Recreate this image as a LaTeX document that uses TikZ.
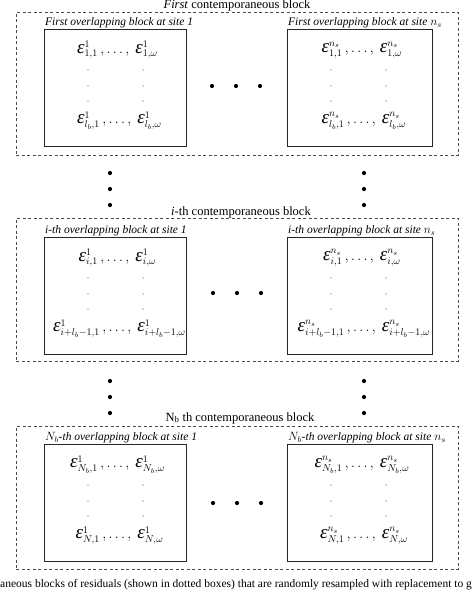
\documentclass[tikz,border=0pt]{standalone}
\usepackage{fontspec}
\setmainfont{Liberation Serif}
\usepackage{amsmath, amssymb}
\usetikzlibrary{calc, positioning}

\tikzset{
  outerbox/.style={draw=black!70, dash pattern=on 3pt off 2.5pt, line width=0.6pt,
    minimum width=442, minimum height=143, anchor=north west, inner sep=0},
  innerbox/.style={draw=black!85, line width=0.9pt, anchor=north west, inner sep=0, minimum height=117},
  sitetitle/.style={font=\fontsize{11.5}{14}\selectfont\itshape, anchor=south west, inner sep=1pt},
  blocktitle/.style={font=\fontsize{12.5}{14}\selectfont, inner sep=0},
  resid/.style={font=\Large, inner sep=0},
  bigdot/.style={circle, fill, inner sep=0, minimum size=4.2},
  smalldot/.style={circle, fill=black!70, inner sep=0, minimum size=1.3}
}

\newcommand{\epsmark}{\text{\fontsize{19}{19}\selectfont\itshape ε}}

% one overlapping block: name, corner, width, top left, top right, bottom left, bottom right
\newcommand{\siteblock}[7]{%
  \node[innerbox, minimum width=#3] (#1) at (#2) {};
  \node[resid] (#1-top) at ($(#1.north)+(2,21)$) {$#4\,,\ldots,\ #5$};
  \node[resid] (#1-bot) at ($(#1.north)+(4,92)$) {$#6\,,\ldots,\ #7$};
  \foreach \r in {41,57,72} {
    \node[smalldot] (#1-a\r) at ($(#1.north west)+(44,\r)$) {};
    \node[smalldot] (#1-b\r) at ($(#1.north west)+(99,\r)$) {};
  }
}

\begin{document}
\begin{tikzpicture}[x=1pt, y=-1pt]
  \useasboundingbox (0,0) rectangle (474,598);

  % contemporaneous blocks
  \node[outerbox] (O1) at (16,12) {};
  \node[outerbox] (O2) at (16,218) {};
  \node[outerbox] (O3) at (16,426) {};
  \node[blocktitle] (T1) at (237,5) {\textit{First} contemporaneous block};
  \node[blocktitle] (T2) at (241,212) {\textit{i}-th contemporaneous block};
  \node[blocktitle] (T3) at (240,418) {N\textsubscript{b} th contemporaneous block};

  % first
  \siteblock{L1}{44,29}{142}{\epsmark^{1}_{1,1}}{\epsmark^{1}_{1,\omega}}
    {\epsmark^{1}_{l_b,1}}{\epsmark^{1}_{l_b,\omega}}
  \siteblock{R1}{287,29}{145}{\epsmark^{n_s}_{1,1}}{\epsmark^{n_s}_{1,\omega}}
    {\epsmark^{n_s}_{l_b,1}}{\epsmark^{n_s}_{l_b,\omega}}
  \node[sitetitle] (S1) at (L1.north west) {First overlapping block at site 1};
  \node[sitetitle] (S2) at (R1.north west) {First overlapping block at site $n_s$};

  % i-th
  \siteblock{L2}{44,237}{142}{\epsmark^{1}_{i,1}}{\epsmark^{1}_{i,\omega}}
    {\epsmark^{1}_{i+l_b-1,1}}{\epsmark^{1}_{i+l_b-1,\omega}}
  \siteblock{R2}{287,237}{145}{\epsmark^{n_s}_{i,1}}{\epsmark^{n_s}_{i,\omega}}
    {\epsmark^{n_s}_{i+l_b-1,1}}{\epsmark^{n_s}_{i+l_b-1,\omega}}
  \node[sitetitle] (S3) at (L2.north west) {i-th overlapping block at site 1};
  \node[sitetitle] (S4) at (R2.north west) {i-th overlapping block at site $n_s$};

  % N_b-th
  \siteblock{L3}{44,444}{142}{\epsmark^{1}_{N_b,1}}{\epsmark^{1}_{N_b,\omega}}
    {\epsmark^{1}_{N,1}}{\epsmark^{1}_{N,\omega}}
  \siteblock{R3}{287,444}{145}{\epsmark^{n_s}_{N_b,1}}{\epsmark^{n_s}_{N_b,\omega}}
    {\epsmark^{n_s}_{N,1}}{\epsmark^{n_s}_{N,\omega}}
  \node[sitetitle] (S5) at (L3.north west) {$N_b$-th overlapping block at site 1};
  \node[sitetitle] (S6) at (R3.north west) {$N_b$-th overlapping block at site $n_s$};

  % dots between sites and between blocks
  \foreach \x in {212,236,260} {
    \node[bigdot] (h1-\x) at (\x,86) {};
    \node[bigdot] (h2-\x) at (\x+1,293) {};
    \node[bigdot] (h3-\x) at (\x+1,503) {};
  }
  \foreach \y in {173,189,205,381,397,413} {
    \node[bigdot] (vl-\y) at (110,\y) {};
    \node[bigdot] (vr-\y) at (364,\y) {};
  }

  \node[anchor=west, inner sep=0, font=\fontsize{11.5}{13}\selectfont] (cap) at (0,585)
    {aneous blocks of residuals (shown in dotted boxes) that are randomly resampled with replacement to g};
\end{tikzpicture}
\end{document}
